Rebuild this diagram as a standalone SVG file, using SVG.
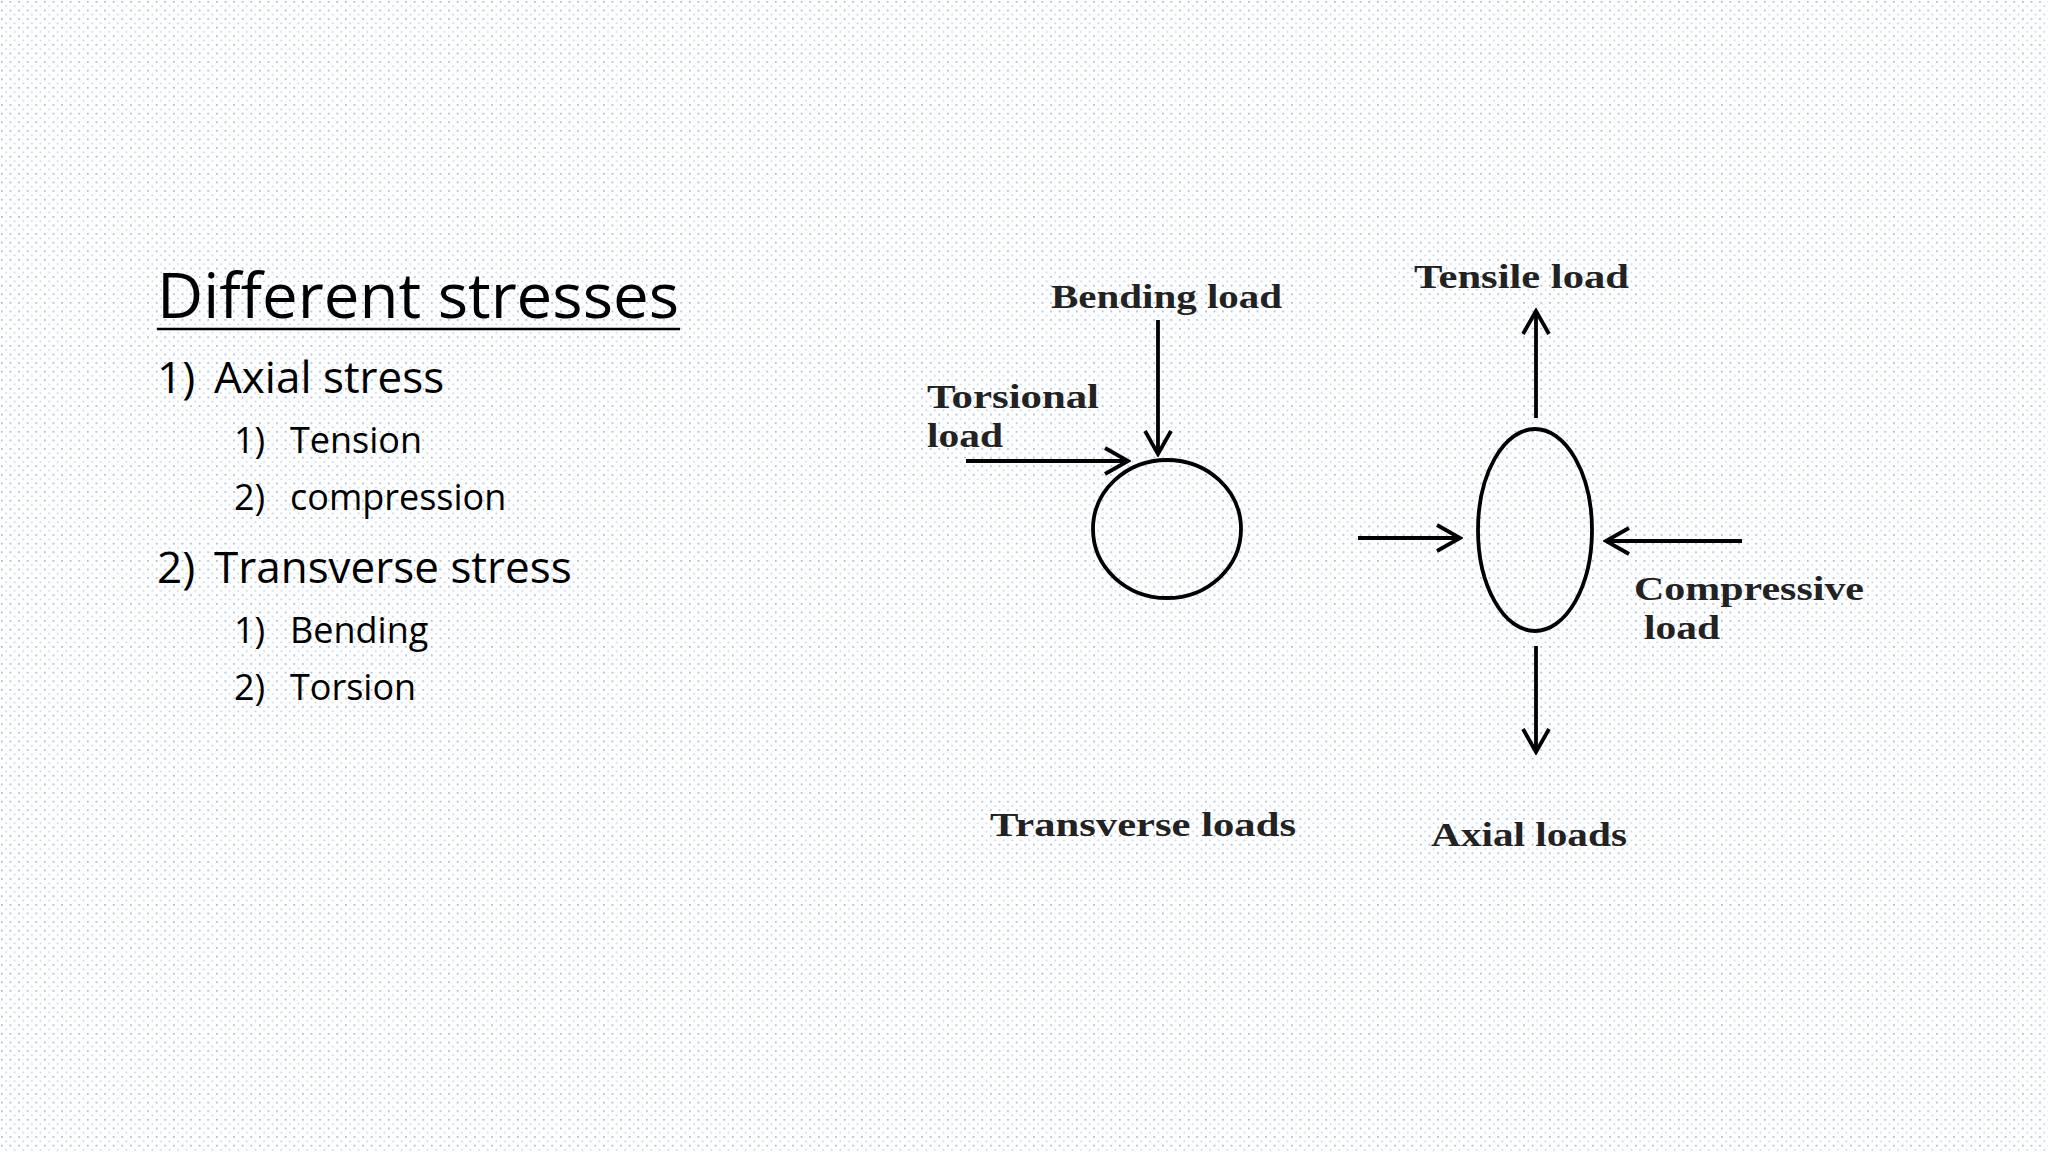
<svg xmlns="http://www.w3.org/2000/svg" width="2048" height="1152" viewBox="0 0 2048 1152">
<defs>
<pattern id="dots" width="8.6" height="8.6" patternUnits="userSpaceOnUse">
<rect x="1" y="1" width="1.6" height="1.6" fill="#8fb4d6"/>
<rect x="5.3" y="5.3" width="1.6" height="1.6" fill="#b9d0e6"/>
</pattern>
<marker id="ah" viewBox="0 0 30 30" refX="27" refY="15" markerWidth="30" markerHeight="30" markerUnits="userSpaceOnUse" orient="auto">
<polyline points="4,2 27,15 4,28" fill="none" stroke="#000" stroke-width="3.8"/>
</marker>
<style>
.t{font-family:"Open Sans","Liberation Sans",sans-serif;fill:#000}
.m{font-size:44px}
.n{font-size:36px}
.l{font-family:"Liberation Serif","DejaVu Serif",serif;font-weight:bold;font-size:33px;fill:#222}
.a{stroke:#000;stroke-width:3.8;fill:none;marker-end:url(#ah)}
.s{stroke:#000;stroke-width:3.8;fill:none}
</style>
</defs>
<rect width="2048" height="1152" fill="#fff"/>
<rect width="2048" height="1152" fill="url(#dots)"/>
<g id="text">
<text class="t" x="157" y="318" font-size="62" textLength="522" lengthAdjust="spacingAndGlyphs">Different stresses</text>
<line x1="157" y1="329" x2="680" y2="329" stroke="#000" stroke-width="2.5"/>
<text class="t m" x="157" y="393">1)</text><text class="t m" x="214" y="393">Axial stress</text>
<text class="t n" x="234" y="453">1)</text><text class="t n" x="290" y="453">Tension</text>
<text class="t n" x="234" y="510">2)</text><text class="t n" x="290" y="510">compression</text>
<text class="t m" x="157" y="583">2)</text><text class="t m" x="214" y="583">Transverse stress</text>
<text class="t n" x="234" y="643">1)</text><text class="t n" x="290" y="643">Bending</text>
<text class="t n" x="234" y="700">2)</text><text class="t n" x="290" y="700">Torsion</text>
</g>
<g id="circle"><ellipse class="s" cx="1167" cy="529" rx="74" ry="69"/></g>
<g id="ellipse"><ellipse class="s" cx="1535" cy="530" rx="57" ry="101"/></g>
<g id="connectors">
<line class="a" x1="1158" y1="320" x2="1158" y2="454"/>
<line class="a" x1="966" y1="461" x2="1128" y2="461"/>
<line class="a" x1="1536" y1="418" x2="1536" y2="311"/>
<line class="a" x1="1536" y1="646" x2="1536" y2="752"/>
<line class="a" x1="1358" y1="538" x2="1460" y2="538"/>
<line class="a" x1="1742" y1="541" x2="1606" y2="541"/>
</g>
<g id="labels">
<text class="l" x="1051" y="308" textLength="231" lengthAdjust="spacingAndGlyphs">Bending load</text>
<text class="l" x="1414" y="288" textLength="215" lengthAdjust="spacingAndGlyphs">Tensile load</text>
<text class="l" x="927" y="408" textLength="172" lengthAdjust="spacingAndGlyphs">Torsional</text>
<text class="l" x="927" y="447" textLength="76" lengthAdjust="spacingAndGlyphs">load</text>
<text class="l" x="1634" y="600" textLength="230" lengthAdjust="spacingAndGlyphs">Compressive</text>
<text class="l" x="1644" y="639" textLength="76" lengthAdjust="spacingAndGlyphs">load</text>
<text class="l" x="990" y="836" textLength="306" lengthAdjust="spacingAndGlyphs">Transverse loads</text>
<text class="l" x="1431" y="846" textLength="196" lengthAdjust="spacingAndGlyphs">Axial loads</text>
</g>
</svg>
